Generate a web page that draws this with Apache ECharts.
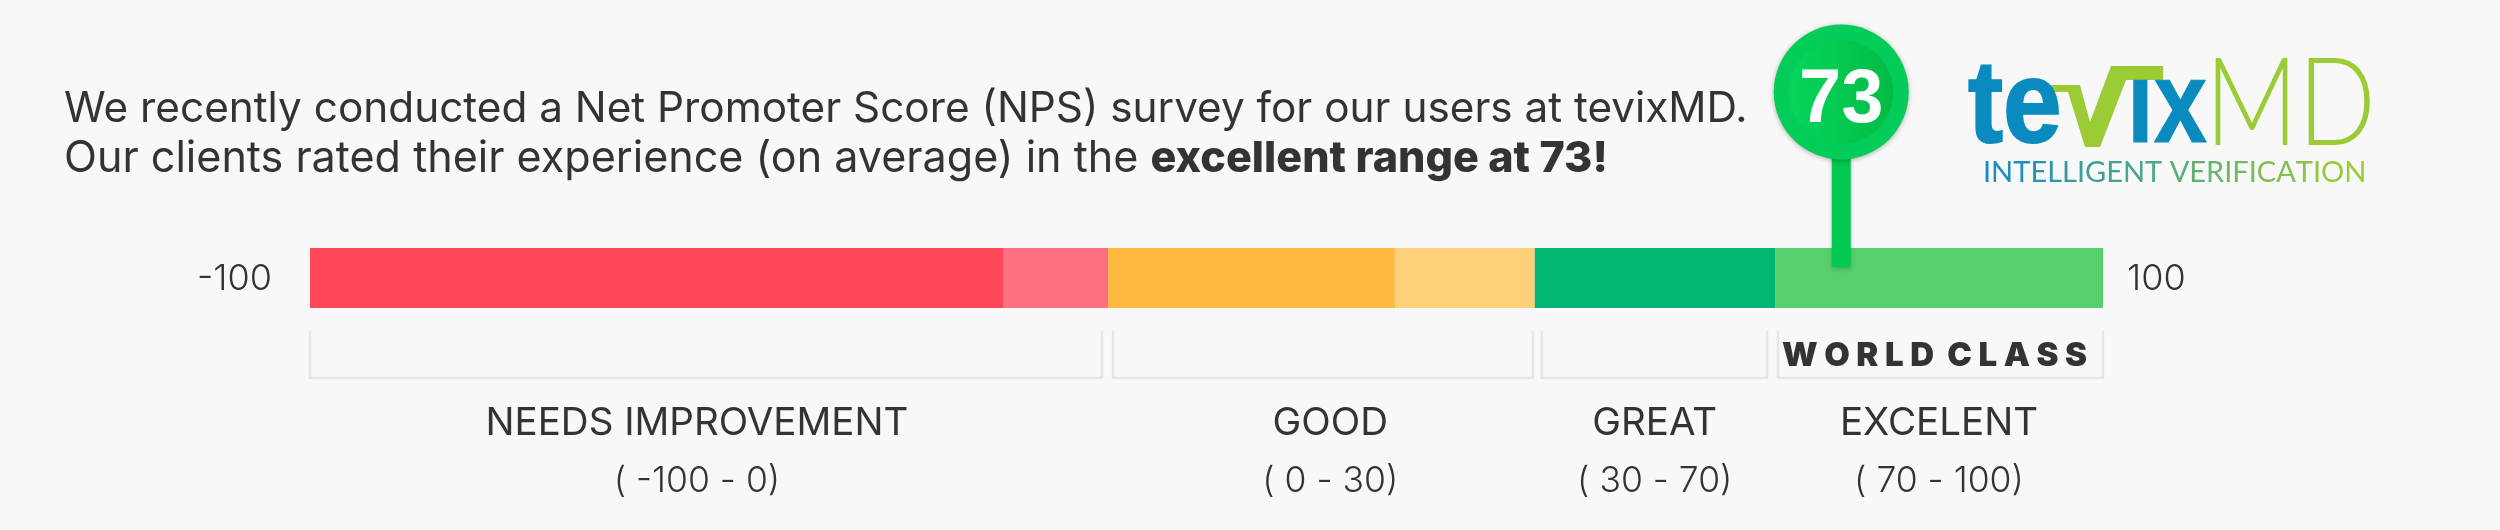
<!DOCTYPE html>
<html><head><meta charset="utf-8">
<style>html,body{margin:0;padding:0;background:#f8f8f8}#c{width:2500px;height:530px}</style>
<script src="https://cdn.jsdelivr.net/npm/echarts@6/dist/echarts.min.js"></script>
</head><body><div id="c"></div>
<script>
const segmentNames=['Needs improvement','Needs improvement (upper)','Good','Good (upper)','Great','Excellent'];
const segmentWidths=[38.65,5.86,16.0,7.8,13.4,18.29];
const segmentColors=['#ff4558','#ff6f82','#ffb840','#ffd07a','#00b671','#57cf6d'];
const scaleEnds=['-100','100'];
const score='73';
const scorePosition=85.4;
const bandNames=['NEEDS IMPROVEMENT','GOOD','GREAT','EXCELENT'];
const bandRanges=['( -100 - 0)','( 0 - 30)','( 30 - 70)','( 70 - 100)'];
const bandStarts=[0,44.79,68.7,81.87];
const bandEnds=[44.17,68.2,81.26,100];
const bandLabelCenters=[21.58,56.9,75.0,90.85];
const worldClass='W O R L D  C L A S S';
const worldClassCenter=90.6;
const tagline='INTELLIGENT VERIFICATION';

const FONT='Inter', HEAD='Inter';
const INK='#333333';
const chart=echarts.init(document.getElementById('c'),null,{renderer:'canvas'});

const bars=segmentWidths.map((v,i)=>({
  name:segmentNames[i],type:'bar',stack:'track',xAxisIndex:0,yAxisIndex:0,barWidth:'100%',
  data:[v],itemStyle:{color:segmentColors[i]},silent:true
}));

function renderBand(params,api){
  const i=api.value(2);
  const x0=api.coord([api.value(0),0])[0], x1=api.coord([api.value(1),0])[0];
  const cs=params.coordSys, top=cs.y, bot=cs.y+cs.height;
  const cx=api.coord([api.value(3),0])[0];
  return {type:'group',children:[
    {type:'polyline',shape:{points:[[x0,top],[x0,bot],[x1,bot],[x1,top]]},
     style:{stroke:'#e3e7ec',lineWidth:2.5,fill:null}},
    {type:'text',style:{text:bandNames[i],x:cx,y:bot+45.5,align:'center',verticalAlign:'middle',
      font:'400 38.5px '+FONT,fill:INK}},
    {type:'text',style:{text:bandRanges[i],x:cx,y:bot+103.5,align:'center',verticalAlign:'middle',
      font:'300 35.5px '+FONT,fill:INK}}
  ]};
}

function renderPin(params,api){
  const p=api.coord([api.value(0),0]);
  const cs=params.coordSys;
  const tipY=cs.y+19, cy=tipY-175, x=p[0];
  return {type:'group',children:[
    {type:'rect',shape:{x:x-9.5,y:cy+60,width:19,height:tipY-cy-60},
     style:{fill:'#00c853',shadowBlur:5,shadowColor:'rgba(0,0,0,0.25)',shadowOffsetY:1}},
    {type:'circle',shape:{cx:x,cy:cy,r:67.5},
     style:{fill:'#03cd58',shadowBlur:5,shadowColor:'rgba(0,0,0,0.3)',shadowOffsetY:1}},
    {type:'circle',shape:{cx:x,cy:cy,r:52},
     style:{fill:{type:'linear',x:0,y:0,x2:1,y2:0,colorStops:[{offset:0,color:'#04d65c'},{offset:1,color:'#03bb45'}]}}},
    {type:'text',style:{text:score,x:x,y:cy+9,align:'center',verticalAlign:'middle',
      font:'700 76px "Liberation Sans"',fill:'#ffffff'}}
  ]};
}

const BLUE='#0a8bbf', LIME='#9ccc35';
const tagRich={};
const tagText=tagline.split('').map((c,i)=>{
  const t=i/(tagline.length-1);
  const mix=(a,b)=>Math.round(a+(b-a)*t);
  tagRich['c'+i]={fontFamily:'Lato',fontWeight:400,fontSize:29,fill:`rgb(${mix(20,156)},${mix(140,204)},${mix(195,53)})`};
  return '{c'+i+'|'+(c===' '?'\u00a0':c)+'}';
}).join('');
const logo=[
  {type:'polygon',shape:{points:[[2050,85],[2080,85],[2090,122],[2111,66],[2163,66],[2163,80],[2126,80],[2100,147],[2085,147],[2068,92],[2050,92]]},style:{fill:LIME}},
  {type:'text',x:1968,y:110,scaleX:0.9,style:{text:'te',x:0,y:0,verticalAlign:'middle',font:'700 117px "Liberation Sans"',fill:BLUE,stroke:BLUE,lineWidth:2},z:2},
  {type:'text',x:2127,y:110,scaleX:0.82,style:{text:'\u0131x',x:0,y:0,verticalAlign:'middle',font:'700 117px "Liberation Sans"',fill:BLUE,stroke:BLUE,lineWidth:1},z:2},
  {type:'text',x:2205,y:106,scaleX:0.84,style:{text:'MD',x:0,y:0,verticalAlign:'middle',font:'300 122px Lato',fill:LIME},z:2},
  {type:'text',style:{text:tagText,x:1983,y:173,verticalAlign:'middle',rich:tagRich}}
];

chart.setOption({
  animation:false,backgroundColor:'#f8f8f8',
  title:[{
    left:59,top:79,
    text:'We recently conducted a Net Promoter Score (NPS) survey for our users at tevixMD.\n{r|Our clients rated their experience (on average) in the }{b|excellent range at 73!}',
    textStyle:{fontFamily:HEAD,fontWeight:400,fontSize:42.3,lineHeight:50,color:INK,
      rich:{r:{fontFamily:HEAD,fontSize:43.1,lineHeight:50,color:INK},
            b:{fontFamily:HEAD,fontSize:43.1,lineHeight:50,fontWeight:800,color:INK}}}
  }],
  grid:[{left:310,width:1793,top:248,height:60},{left:310,width:1793,top:331,height:47}],
  xAxis:[
    {gridIndex:0,type:'value',min:0,max:100,show:false},
    {gridIndex:1,type:'value',min:0,max:100,show:false}
  ],
  yAxis:[
    {gridIndex:0,type:'category',data:['NPS'],show:false},
    {gridIndex:1,type:'value',min:0,max:1,show:false}
  ],
  graphic:{elements:logo},
  series:[...bars,
    {type:'scatter',xAxisIndex:0,yAxisIndex:0,symbolSize:0,silent:true,z:3,itemStyle:{opacity:1},
     data:[{value:[0,'NPS'],label:{position:'left',distance:38,offset:[0,1.5],formatter:scaleEnds[0]}},
           {value:[100,'NPS'],label:{position:'right',distance:24,offset:[0,1.5],formatter:scaleEnds[1]}}],
     label:{show:true,fontFamily:FONT,fontSize:36,fontWeight:300,color:INK}},
    {type:'custom',xAxisIndex:1,yAxisIndex:1,silent:true,clip:false,renderItem:renderBand,
     data:bandStarts.map((s,i)=>[s,bandEnds[i],i,bandLabelCenters[i]]),encode:{x:[0,1]}},
    {type:'scatter',xAxisIndex:1,yAxisIndex:1,symbolSize:0,silent:true,itemStyle:{opacity:1},
     data:[{value:[worldClassCenter,0.47]}],
     label:{show:true,position:'inside',formatter:worldClass,fontFamily:'Inter',fontWeight:900,fontSize:33,color:INK}},
    {type:'custom',xAxisIndex:0,yAxisIndex:0,silent:true,clip:false,z:10,renderItem:renderPin,
     data:[[scorePosition,'NPS']],encode:{x:0}}
  ]
});
</script></body></html>
